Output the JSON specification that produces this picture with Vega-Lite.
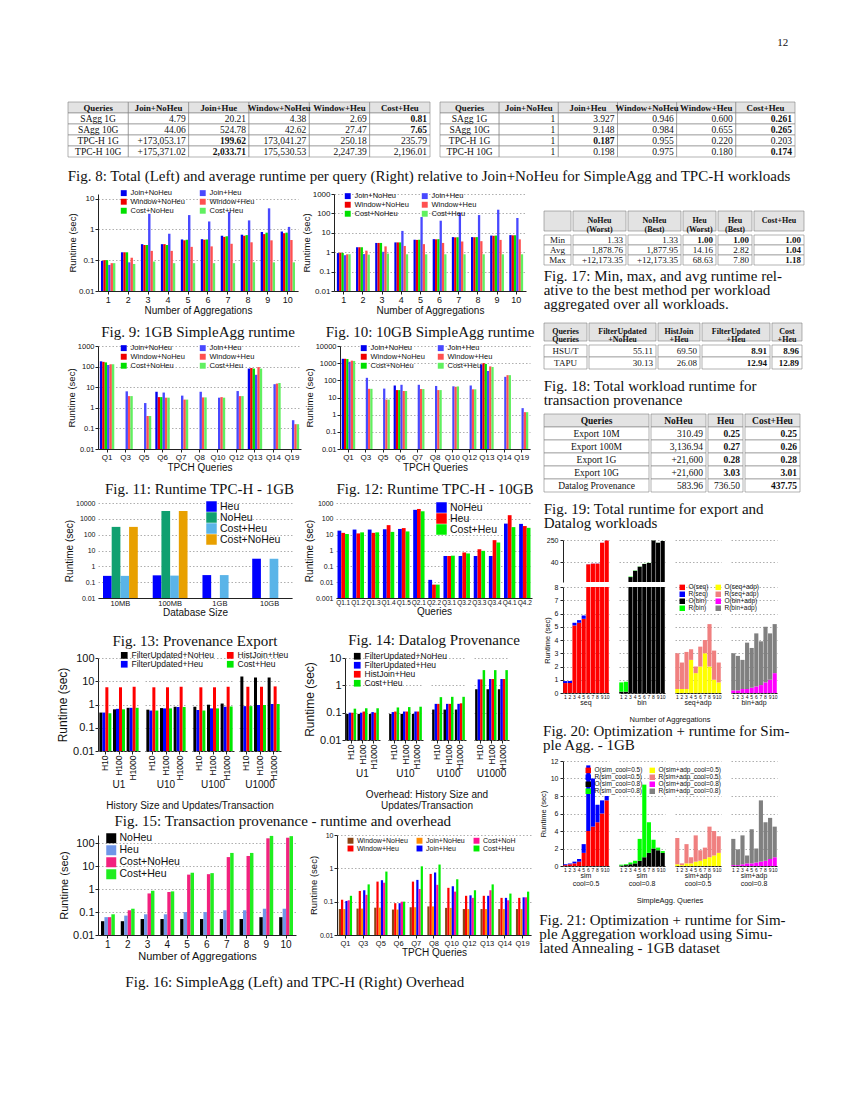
{
"$schema":"https://vega.github.io/schema/vega-lite/v6.json",
"background":"white",
"padding":{"left":56,"top":36,"right":5,"bottom":5},
"config":{
 "font":"Liberation Sans",
 "view":{"stroke":null},
 "axis":{"labelFontSize":8,"titleFontSize":9.5,"titleFontWeight":"normal","labelColor":"#111","titleColor":"#111","domainColor":"#222","tickColor":"#222","gridColor":"#8c8c8c","gridDash":[1.5,2],"gridWidth":0.7,"titlePadding":1,"labelPadding":1,"tickSize":3},
 "legend":{"labelFontSize":7.5,"labelColor":"#111","symbolType":"square","symbolSize":35,"symbolStrokeWidth":0,"rowPadding":0,"columnPadding":10,"padding":0,"labelOffset":3},
 "title":{"font":"Liberation Serif","fontSize":15,"fontWeight":"normal","color":"#111","offset":8},
 "header":{"labelFont":"Liberation Sans","titleFont":"Liberation Sans","titleFontWeight":"normal","labelColor":"#111","titleColor":"#111"}
},
"title":{"text":"12","anchor":"end","font":"Liberation Serif","fontSize":11,"offset":54,"dx":-16},
"datasets":{
"t8a":[
{"r":0,"c0":"Queries","c1":"Join+NoHeu","c2":"Join+Hue","c3":"Window+NoHeu","c4":"Window+Heu","c5":"Cost+Heu"},
{"r":1,"c0":"SAgg 1G","c1":"4.79","c2":"20.21","c3":"4.38","c4":"2.69","c5":"0.81","best":"c5"},
{"r":2,"c0":"SAgg 10G","c1":"44.06","c2":"524.78","c3":"42.62","c4":"27.47","c5":"7.65","best":"c5"},
{"r":3,"c0":"TPC-H 1G","c1":"+173,053.17","c2":"199.62","c3":"173,041.27","c4":"250.18","c5":"235.79","best":"c2"},
{"r":4,"c0":"TPC-H 10G","c1":"+175,371.02","c2":"2,033.71","c3":"175,530.53","c4":"2,247.39","c5":"2,196.01","best":"c2"}
],
"t8b":[
{"r":0,"c0":"Queries","c1":"Join+NoHeu","c2":"Join+Heu","c3":"Window+NoHeu","c4":"Window+Heu","c5":"Cost+Heu"},
{"r":1,"c0":"SAgg 1G","c1":"1","c2":"3.927","c3":"0.946","c4":"0.600","c5":"0.261","best":"c5"},
{"r":2,"c0":"SAgg 10G","c1":"1","c2":"9.148","c3":"0.984","c4":"0.655","c5":"0.265","best":"c5"},
{"r":3,"c0":"TPC-H 1G","c1":"1","c2":"0.187","c3":"0.955","c4":"0.220","c5":"0.203","best":"c2"},
{"r":4,"c0":"TPC-H 10G","c1":"1","c2":"0.198","c3":"0.975","c4":"0.180","c5":"0.174","best":"c5"}
],
"t17":[
{"r":0,"c0":"","c1":"NoHeu\n(Worst)","c2":"NoHeu\n(Best)","c3":"Heu\n(Worst)","c4":"Heu\n(Best)","c5":"Cost+Heu"},
{"r":1,"c0":"Min","c1":"1.33","c2":"1.33","c3":"1.00","c4":"1.00","c5":"1.00","best":"c3 c4 c5"},
{"r":2,"c0":"Avg","c1":"1,878.76","c2":"1,877.95","c3":"14.16","c4":"2.82","c5":"1.04","best":"c5"},
{"r":3,"c0":"Max","c1":"+12,173.35","c2":"+12,173.35","c3":"68.63","c4":"7.80","c5":"1.18","best":"c5"}
],
"t18":[
{"r":0,"c0":"Queries\nQueries","c1":"FilterUpdated\n+NoHeu","c2":"HistJoin\n+Heu","c3":"FilterUpdated\n+Heu","c4":"Cost\n+Heu"},
{"r":1,"c0":"HSU/T","c1":"55.11","c2":"69.50","c3":"8.91","c4":"8.96","best":"c3 c4"},
{"r":2,"c0":"TAPU","c1":"30.13","c2":"26.08","c3":"12.94","c4":"12.89","best":"c3 c4"}
],
"t19":[
{"r":0,"c0":"Queries","c1":"NoHeu","c2":"Heu","c3":"Cost+Heu"},
{"r":1,"c0":"Export 10M","c1":"310.49","c2":"0.25","c3":"0.25","best":"c2 c3"},
{"r":2,"c0":"Export 100M","c1":"3,136.94","c2":"0.27","c3":"0.26","best":"c2 c3"},
{"r":3,"c0":"Export 1G","c1":"+21,600","c2":"0.28","c3":"0.28","best":"c2 c3"},
{"r":4,"c0":"Export 10G","c1":"+21,600","c2":"3.03","c3":"3.01","best":"c2 c3"},
{"r":5,"c0":"Datalog Provenance","c1":"583.96","c2":"736.50","c3":"437.75","best":"c3"}
],
"f9":[
{"n":1,"Join+NoHeu":0.095,"Window+NoHeu":0.1,"Cost+NoHeu":0.1,"Join+Heu":0.07,"Window+Heu":0.08,"Cost+Heu":0.08},
{"n":2,"Join+NoHeu":0.18,"Window+NoHeu":0.18,"Cost+NoHeu":0.18,"Join+Heu":0.085,"Window+Heu":0.12,"Cost+Heu":0.075},
{"n":3,"Join+NoHeu":0.33,"Window+NoHeu":0.31,"Cost+NoHeu":0.31,"Join+Heu":3.2,"Window+Heu":0.2,"Cost+Heu":0.09},
{"n":4,"Join+NoHeu":0.33,"Window+NoHeu":0.33,"Cost+NoHeu":0.31,"Join+Heu":0.72,"Window+Heu":0.2,"Cost+Heu":0.08},
{"n":5,"Join+NoHeu":0.47,"Window+NoHeu":0.44,"Cost+NoHeu":0.46,"Join+Heu":2.9,"Window+Heu":0.27,"Cost+Heu":0.08},
{"n":6,"Join+NoHeu":0.48,"Window+NoHeu":0.46,"Cost+NoHeu":0.47,"Join+Heu":1.8,"Window+Heu":0.28,"Cost+Heu":0.08},
{"n":7,"Join+NoHeu":0.62,"Window+NoHeu":0.57,"Cost+NoHeu":0.6,"Join+Heu":3.7,"Window+Heu":0.34,"Cost+Heu":0.08},
{"n":8,"Join+NoHeu":0.67,"Window+NoHeu":0.62,"Cost+NoHeu":0.65,"Join+Heu":1.95,"Window+Heu":0.38,"Cost+Heu":0.085},
{"n":9,"Join+NoHeu":0.82,"Window+NoHeu":0.7,"Cost+NoHeu":0.78,"Join+Heu":4.8,"Window+Heu":0.44,"Cost+Heu":0.085},
{"n":10,"Join+NoHeu":0.85,"Window+NoHeu":0.75,"Cost+NoHeu":0.78,"Join+Heu":1.2,"Window+Heu":0.45,"Cost+Heu":0.085}
],
"f10":[
{"n":1,"Join+NoHeu":0.9,"Window+NoHeu":0.95,"Cost+NoHeu":0.92,"Join+Heu":0.7,"Window+Heu":0.78,"Cost+Heu":0.78},
{"n":2,"Join+NoHeu":1.8,"Window+NoHeu":1.8,"Cost+NoHeu":1.8,"Join+Heu":0.8,"Window+Heu":1.2,"Cost+Heu":0.75},
{"n":3,"Join+NoHeu":3,"Window+NoHeu":3,"Cost+NoHeu":3,"Join+Heu":1.05,"Window+Heu":2,"Cost+Heu":0.85},
{"n":4,"Join+NoHeu":3.2,"Window+NoHeu":3.2,"Cost+NoHeu":3.2,"Join+Heu":12.5,"Window+Heu":2.1,"Cost+Heu":0.78},
{"n":5,"Join+NoHeu":4.4,"Window+NoHeu":4.3,"Cost+NoHeu":4.4,"Join+Heu":65,"Window+Heu":2.6,"Cost+Heu":0.78},
{"n":6,"Join+NoHeu":4.7,"Window+NoHeu":4.6,"Cost+NoHeu":4.7,"Join+Heu":42,"Window+Heu":3,"Cost+Heu":0.78},
{"n":7,"Join+NoHeu":6,"Window+NoHeu":5.8,"Cost+NoHeu":5.9,"Join+Heu":105,"Window+Heu":3.6,"Cost+Heu":0.78},
{"n":8,"Join+NoHeu":6,"Window+NoHeu":5.9,"Cost+NoHeu":6,"Join+Heu":82,"Window+Heu":3.7,"Cost+Heu":0.78},
{"n":9,"Join+NoHeu":7.2,"Window+NoHeu":7,"Cost+NoHeu":7.2,"Join+Heu":155,"Window+Heu":4.3,"Cost+Heu":0.78},
{"n":10,"Join+NoHeu":7.6,"Window+NoHeu":7.4,"Cost+NoHeu":7.5,"Join+Heu":58,"Window+Heu":4.6,"Cost+Heu":0.78}
],
"f11":[
{"q":"Q1","Join+NoHeu":180,"Window+NoHeu":170,"Cost+NoHeu":160,"Join+Heu":120,"Window+Heu":130,"Cost+Heu":130},
{"q":"Q3","Join+Heu":6.3,"Window+Heu":3.7,"Cost+Heu":3.7},
{"q":"Q5","Join+Heu":1.7,"Window+Heu":0.4,"Cost+Heu":0.4},
{"q":"Q6","Join+NoHeu":6,"Window+NoHeu":3.3,"Cost+NoHeu":3.3,"Join+Heu":5.5,"Window+Heu":3.1,"Cost+Heu":3.1},
{"q":"Q7","Join+Heu":3.9,"Window+Heu":2.5,"Cost+Heu":2.5},
{"q":"Q8","Join+Heu":6,"Window+Heu":3.2,"Cost+Heu":3.2},
{"q":"Q10","Join+Heu":3.1,"Window+Heu":3.3,"Cost+Heu":3.1},
{"q":"Q12","Join+Heu":6.5,"Window+Heu":3.7,"Cost+Heu":3.7},
{"q":"Q13","Join+NoHeu":80,"Window+NoHeu":85,"Cost+NoHeu":80,"Join+Heu":40,"Window+Heu":95,"Cost+Heu":80},
{"q":"Q14","Join+Heu":14,"Window+Heu":15,"Cost+Heu":16},
{"q":"Q19","Join+Heu":0.25,"Window+Heu":0.16,"Cost+Heu":0.16}
],
"f12":[
{"q":"Q1","Join+NoHeu":1800,"Window+NoHeu":1800,"Cost+NoHeu":1750,"Join+Heu":1200,"Window+Heu":1400,"Cost+Heu":1350},
{"q":"Q3","Join+Heu":140,"Window+Heu":32,"Cost+Heu":32},
{"q":"Q5","Join+Heu":33,"Window+Heu":7.5,"Cost+Heu":7.5},
{"q":"Q6","Join+NoHeu":50,"Window+NoHeu":27,"Cost+NoHeu":27,"Join+Heu":55,"Window+Heu":24,"Cost+Heu":24},
{"q":"Q7","Join+Heu":55,"Window+Heu":31,"Cost+Heu":31},
{"q":"Q8","Join+Heu":47,"Window+Heu":27,"Cost+Heu":27},
{"q":"Q10","Join+Heu":45,"Window+Heu":42,"Cost+Heu":44},
{"q":"Q12","Join+Heu":50,"Window+Heu":30,"Cost+Heu":30},
{"q":"Q13","Join+NoHeu":850,"Window+NoHeu":1000,"Cost+NoHeu":900,"Join+Heu":350,"Window+Heu":650,"Cost+Heu":600},
{"q":"Q14","Join+Heu":160,"Window+Heu":200,"Cost+Heu":200},
{"q":"Q19","Join+Heu":2.4,"Window+Heu":1.4,"Cost+Heu":1.4}
],
"f13":[
{"d":"10MB","Heu":0.25,"NoHeu":310,"Cost+Heu":0.25,"Cost+NoHeu":310},
{"d":"100MB","Heu":0.27,"NoHeu":3137,"Cost+Heu":0.26,"Cost+NoHeu":3137},
{"d":"1GB","Heu":0.28,"Cost+Heu":0.28},
{"d":"10GB","Heu":3.03,"Cost+Heu":3.01}
],
"f14":[
{"q":"Q1.1","NoHeu":18,"Heu":13,"Cost+Heu":11},
{"q":"Q1.2","NoHeu":21,"Heu":12,"Cost+Heu":14},
{"q":"Q1.3","NoHeu":21,"Heu":13,"Cost+Heu":14},
{"q":"Q1.4","NoHeu":22,"Heu":40,"Cost+Heu":15},
{"q":"Q1.5","NoHeu":23,"Heu":26,"Cost+Heu":16},
{"q":"Q2.1","NoHeu":370,"Heu":420,"Cost+Heu":300},
{"q":"Q2.2","NoHeu":0.014,"Heu":0.007,"Cost+Heu":0.007},
{"q":"Q3.1","NoHeu":0.45,"Heu":0.45,"Cost+Heu":0.47},
{"q":"Q3.2","NoHeu":0.45,"Heu":0.75,"Cost+Heu":0.65},
{"q":"Q3.3","NoHeu":0.45,"Heu":1.2,"Cost+Heu":0.95},
{"q":"Q3.4","NoHeu":0.45,"Heu":4.5,"Cost+Heu":3.2},
{"q":"Q4.1","NoHeu":50,"Heu":170,"Cost+Heu":30},
{"q":"Q4.2","NoHeu":48,"Heu":35,"Cost+Heu":27}
],
"f15a":[
{"u":"U1","h":"H10","FilterUpdated+NoHeu":0.45,"FilterUpdated+Heu":0.45,"HistJoin+Heu":5.5,"Cost+Heu":0.42},
{"u":"U1","h":"H100","FilterUpdated+NoHeu":0.62,"FilterUpdated+Heu":0.65,"HistJoin+Heu":5.5,"Cost+Heu":0.62},
{"u":"U1","h":"H1000","FilterUpdated+NoHeu":0.72,"FilterUpdated+Heu":0.72,"HistJoin+Heu":5.8,"Cost+Heu":0.72},
{"u":"U10","h":"H10","FilterUpdated+NoHeu":0.6,"FilterUpdated+Heu":0.55,"HistJoin+Heu":5.5,"Cost+Heu":0.55},
{"u":"U10","h":"H100","FilterUpdated+NoHeu":0.7,"FilterUpdated+Heu":0.68,"HistJoin+Heu":5.5,"Cost+Heu":0.68},
{"u":"U10","h":"H1000","FilterUpdated+NoHeu":0.8,"FilterUpdated+Heu":0.78,"HistJoin+Heu":5.8,"Cost+Heu":0.78},
{"u":"U100","h":"H10","FilterUpdated+NoHeu":0.8,"FilterUpdated+Heu":0.58,"HistJoin+Heu":5.5,"Cost+Heu":0.55},
{"u":"U100","h":"H100","FilterUpdated+NoHeu":0.98,"FilterUpdated+Heu":0.68,"HistJoin+Heu":5.5,"Cost+Heu":0.68},
{"u":"U100","h":"H1000","FilterUpdated+NoHeu":1.1,"FilterUpdated+Heu":0.8,"HistJoin+Heu":5.8,"Cost+Heu":0.82},
{"u":"U1000","h":"H10","FilterUpdated+NoHeu":16,"FilterUpdated+Heu":0.85,"HistJoin+Heu":5.8,"Cost+Heu":0.85},
{"u":"U1000","h":"H100","FilterUpdated+NoHeu":14.5,"FilterUpdated+Heu":0.95,"HistJoin+Heu":5.8,"Cost+Heu":0.95},
{"u":"U1000","h":"H1000","FilterUpdated+NoHeu":14.5,"FilterUpdated+Heu":1.05,"HistJoin+Heu":6,"Cost+Heu":1.05}
],
"f15b":[
{"u":"U1","h":"H10","FilterUpdated+NoHeu":0.09,"FilterUpdated+Heu":0.1,"HistJoin+Heu":0.1,"Cost+Heu":0.14},
{"u":"U1","h":"H100","FilterUpdated+NoHeu":0.09,"FilterUpdated+Heu":0.1,"HistJoin+Heu":0.11,"Cost+Heu":0.145},
{"u":"U1","h":"H1000","FilterUpdated+NoHeu":0.09,"FilterUpdated+Heu":0.105,"HistJoin+Heu":0.1,"Cost+Heu":0.145},
{"u":"U10","h":"H10","FilterUpdated+NoHeu":0.09,"FilterUpdated+Heu":0.105,"HistJoin+Heu":0.11,"Cost+Heu":0.155},
{"u":"U10","h":"H100","FilterUpdated+NoHeu":0.09,"FilterUpdated+Heu":0.11,"HistJoin+Heu":0.11,"Cost+Heu":0.16},
{"u":"U10","h":"H1000","FilterUpdated+NoHeu":0.09,"FilterUpdated+Heu":0.11,"HistJoin+Heu":0.11,"Cost+Heu":0.165},
{"u":"U100","h":"H10","FilterUpdated+NoHeu":0.13,"FilterUpdated+Heu":0.21,"HistJoin+Heu":0.21,"Cost+Heu":0.37},
{"u":"U100","h":"H100","FilterUpdated+NoHeu":0.13,"FilterUpdated+Heu":0.21,"HistJoin+Heu":0.21,"Cost+Heu":0.38},
{"u":"U100","h":"H1000","FilterUpdated+NoHeu":0.13,"FilterUpdated+Heu":0.21,"HistJoin+Heu":0.22,"Cost+Heu":0.38},
{"u":"U1000","h":"H10","FilterUpdated+NoHeu":0.72,"FilterUpdated+Heu":1.65,"HistJoin+Heu":1.65,"Cost+Heu":3.6},
{"u":"U1000","h":"H100","FilterUpdated+NoHeu":0.72,"FilterUpdated+Heu":1.7,"HistJoin+Heu":1.7,"Cost+Heu":3.6},
{"u":"U1000","h":"H1000","FilterUpdated+NoHeu":0.72,"FilterUpdated+Heu":1.7,"HistJoin+Heu":1.7,"Cost+Heu":3.6}
],
"f16a":[
{"n":1,"NoHeu":0.04,"Heu":0.06,"Cost+NoHeu":0.06,"Cost+Heu":0.08},
{"n":2,"NoHeu":0.04,"Heu":0.07,"Cost+NoHeu":0.12,"Cost+Heu":0.14},
{"n":3,"NoHeu":0.05,"Heu":0.08,"Cost+NoHeu":0.65,"Cost+Heu":0.85},
{"n":4,"NoHeu":0.05,"Heu":0.08,"Cost+NoHeu":0.75,"Cost+Heu":0.8},
{"n":5,"NoHeu":0.05,"Heu":0.1,"Cost+NoHeu":4.3,"Cost+Heu":5.2},
{"n":6,"NoHeu":0.05,"Heu":0.1,"Cost+NoHeu":4.5,"Cost+Heu":5},
{"n":7,"NoHeu":0.05,"Heu":0.12,"Cost+NoHeu":25,"Cost+Heu":38},
{"n":8,"NoHeu":0.05,"Heu":0.12,"Cost+NoHeu":28,"Cost+Heu":38},
{"n":9,"NoHeu":0.06,"Heu":0.14,"Cost+NoHeu":165,"Cost+Heu":210},
{"n":10,"NoHeu":0.06,"Heu":0.14,"Cost+NoHeu":175,"Cost+Heu":205}
],
"f16b":[
{"q":"Q1","Window+NoHeu":0.06,"Window+Heu":0.115,"Join+NoHeu":0.06,"Join+Heu":0.105,"Cost+NoH":0.11,"Cost+Heu":0.15},
{"q":"Q3","Window+NoHeu":0.062,"Window+Heu":0.21,"Join+NoHeu":0.062,"Join+Heu":0.22,"Cost+NoH":0.16,"Cost+Heu":0.33},
{"q":"Q5","Window+NoHeu":0.066,"Window+Heu":0.4,"Join+NoHeu":0.066,"Join+Heu":0.44,"Cost+NoH":0.37,"Cost+Heu":0.8},
{"q":"Q6","Window+NoHeu":0.058,"Window+Heu":0.09,"Join+NoHeu":0.058,"Join+Heu":0.09,"Cost+NoH":0.1,"Cost+Heu":0.1},
{"q":"Q7","Window+NoHeu":0.068,"Window+Heu":0.4,"Join+NoHeu":0.068,"Join+Heu":0.45,"Cost+NoH":0.24,"Cost+Heu":1.15},
{"q":"Q8","Window+NoHeu":0.072,"Window+Heu":0.68,"Join+NoHeu":0.072,"Join+Heu":0.75,"Cost+NoH":0.32,"Cost+Heu":1.3},
{"q":"Q10","Window+NoHeu":0.065,"Window+Heu":0.26,"Join+NoHeu":0.065,"Join+Heu":0.29,"Cost+NoH":0.2,"Cost+Heu":0.47},
{"q":"Q12","Window+NoHeu":0.06,"Window+Heu":0.15,"Join+NoHeu":0.06,"Join+Heu":0.155,"Cost+NoH":0.13,"Cost+Heu":0.22},
{"q":"Q13","Window+NoHeu":0.06,"Window+Heu":0.15,"Join+NoHeu":0.06,"Join+Heu":0.15,"Cost+NoH":0.22,"Cost+Heu":0.33},
{"q":"Q14","Window+NoHeu":0.06,"Window+Heu":0.13,"Join+NoHeu":0.06,"Join+Heu":0.13,"Cost+NoH":0.11,"Cost+Heu":0.175},
{"q":"Q19","Window+NoHeu":0.06,"Window+Heu":0.13,"Join+NoHeu":0.06,"Join+Heu":0.135,"Cost+NoH":0.135,"Cost+Heu":0.2}
],
"f20":[
{"g":"seq","n":1,"s":"O(seq)","v":0.75},{"g":"seq","n":2,"s":"O(seq)","v":0.75},{"g":"seq","n":3,"s":"O(seq)","v":5.1},{"g":"seq","n":4,"s":"O(seq)","v":5.3},{"g":"seq","n":5,"s":"O(seq)","v":5.6},{"g":"seq","n":6,"s":"O(seq)","v":34},{"g":"seq","n":7,"s":"O(seq)","v":36},{"g":"seq","n":8,"s":"O(seq)","v":36},{"g":"seq","n":9,"s":"O(seq)","v":200},{"g":"seq","n":10,"s":"O(seq)","v":240},
{"g":"seq","n":1,"s":"R(seq)","v":0.15},{"g":"seq","n":2,"s":"R(seq)","v":0.15},{"g":"seq","n":3,"s":"R(seq)","v":0.2},{"g":"seq","n":4,"s":"R(seq)","v":0.2},{"g":"seq","n":5,"s":"R(seq)","v":0.25},{"g":"seq","n":6,"s":"R(seq)","v":0.3},{"g":"seq","n":7,"s":"R(seq)","v":0.3},{"g":"seq","n":8,"s":"R(seq)","v":0.5},{"g":"seq","n":9,"s":"R(seq)","v":1},{"g":"seq","n":10,"s":"R(seq)","v":1},
{"g":"bin","n":1,"s":"O(bin)","v":0.1},{"g":"bin","n":2,"s":"O(bin)","v":0.1},{"g":"bin","n":3,"s":"O(bin)","v":12},{"g":"bin","n":4,"s":"O(bin)","v":20},{"g":"bin","n":5,"s":"O(bin)","v":28},{"g":"bin","n":6,"s":"O(bin)","v":35},{"g":"bin","n":7,"s":"O(bin)","v":38},{"g":"bin","n":8,"s":"O(bin)","v":240},{"g":"bin","n":9,"s":"O(bin)","v":200},{"g":"bin","n":10,"s":"O(bin)","v":230},
{"g":"bin","n":1,"s":"R(bin)","v":0.7},{"g":"bin","n":2,"s":"R(bin)","v":0.75},{"g":"bin","n":3,"s":"R(bin)","v":0.5},{"g":"bin","n":4,"s":"R(bin)","v":0.5},{"g":"bin","n":5,"s":"R(bin)","v":0.5},{"g":"bin","n":6,"s":"R(bin)","v":0.5},{"g":"bin","n":7,"s":"R(bin)","v":0.5},{"g":"bin","n":8,"s":"R(bin)","v":1},{"g":"bin","n":9,"s":"R(bin)","v":1},{"g":"bin","n":10,"s":"R(bin)","v":1},
{"g":"seq+adp","n":1,"s":"O(seq+adp)","v":0.3},{"g":"seq+adp","n":2,"s":"O(seq+adp)","v":0.3},{"g":"seq+adp","n":3,"s":"O(seq+adp)","v":0.3},{"g":"seq+adp","n":4,"s":"O(seq+adp)","v":2.5},{"g":"seq+adp","n":5,"s":"O(seq+adp)","v":1.5},{"g":"seq+adp","n":6,"s":"O(seq+adp)","v":2},{"g":"seq+adp","n":7,"s":"O(seq+adp)","v":3},{"g":"seq+adp","n":8,"s":"O(seq+adp)","v":2},{"g":"seq+adp","n":9,"s":"O(seq+adp)","v":1},{"g":"seq+adp","n":10,"s":"O(seq+adp)","v":0.8},
{"g":"seq+adp","n":1,"s":"R(seq+adp)","v":2.7},{"g":"seq+adp","n":2,"s":"R(seq+adp)","v":2},{"g":"seq+adp","n":3,"s":"R(seq+adp)","v":2.8},{"g":"seq+adp","n":4,"s":"R(seq+adp)","v":0.8},{"g":"seq+adp","n":5,"s":"R(seq+adp)","v":0.5},{"g":"seq+adp","n":6,"s":"R(seq+adp)","v":1.5},{"g":"seq+adp","n":7,"s":"R(seq+adp)","v":1},{"g":"seq+adp","n":8,"s":"R(seq+adp)","v":3.2},{"g":"seq+adp","n":9,"s":"R(seq+adp)","v":2.2},{"g":"seq+adp","n":10,"s":"R(seq+adp)","v":1.5},
{"g":"bin+adp","n":1,"s":"O(bin+adp)","v":0.2},{"g":"bin+adp","n":2,"s":"O(bin+adp)","v":0.2},{"g":"bin+adp","n":3,"s":"O(bin+adp)","v":0.3},{"g":"bin+adp","n":4,"s":"O(bin+adp)","v":0.3},{"g":"bin+adp","n":5,"s":"O(bin+adp)","v":0.4},{"g":"bin+adp","n":6,"s":"O(bin+adp)","v":0.5},{"g":"bin+adp","n":7,"s":"O(bin+adp)","v":0.6},{"g":"bin+adp","n":8,"s":"O(bin+adp)","v":0.8},{"g":"bin+adp","n":9,"s":"O(bin+adp)","v":1},{"g":"bin+adp","n":10,"s":"O(bin+adp)","v":1.5},
{"g":"bin+adp","n":1,"s":"R(bin+adp)","v":2.8},{"g":"bin+adp","n":2,"s":"R(bin+adp)","v":2.6},{"g":"bin+adp","n":3,"s":"R(bin+adp)","v":2.2},{"g":"bin+adp","n":4,"s":"R(bin+adp)","v":3.5},{"g":"bin+adp","n":5,"s":"R(bin+adp)","v":3},{"g":"bin+adp","n":6,"s":"R(bin+adp)","v":4},{"g":"bin+adp","n":7,"s":"R(bin+adp)","v":3.3},{"g":"bin+adp","n":8,"s":"R(bin+adp)","v":4.2},{"g":"bin+adp","n":9,"s":"R(bin+adp)","v":3.5},{"g":"bin+adp","n":10,"s":"R(bin+adp)","v":3.7}
],
"f21":[
{"g":"sim|cool=0.5","n":1,"s":"O(sim_cool=0.5)","v":0.1},{"g":"sim|cool=0.5","n":2,"s":"O(sim_cool=0.5)","v":0.2},{"g":"sim|cool=0.5","n":3,"s":"O(sim_cool=0.5)","v":0.3},{"g":"sim|cool=0.5","n":4,"s":"O(sim_cool=0.5)","v":0.5},{"g":"sim|cool=0.5","n":5,"s":"O(sim_cool=0.5)","v":1.5},{"g":"sim|cool=0.5","n":6,"s":"O(sim_cool=0.5)","v":4},{"g":"sim|cool=0.5","n":7,"s":"O(sim_cool=0.5)","v":4.5},{"g":"sim|cool=0.5","n":8,"s":"O(sim_cool=0.5)","v":5},{"g":"sim|cool=0.5","n":9,"s":"O(sim_cool=0.5)","v":6},{"g":"sim|cool=0.5","n":10,"s":"O(sim_cool=0.5)","v":7.5},
{"g":"sim|cool=0.5","n":1,"s":"R(sim_cool=0.5)","v":0.1},{"g":"sim|cool=0.5","n":2,"s":"R(sim_cool=0.5)","v":0.1},{"g":"sim|cool=0.5","n":3,"s":"R(sim_cool=0.5)","v":0.2},{"g":"sim|cool=0.5","n":4,"s":"R(sim_cool=0.5)","v":0.3},{"g":"sim|cool=0.5","n":5,"s":"R(sim_cool=0.5)","v":1},{"g":"sim|cool=0.5","n":6,"s":"R(sim_cool=0.5)","v":7.5},{"g":"sim|cool=0.5","n":7,"s":"R(sim_cool=0.5)","v":5.5},{"g":"sim|cool=0.5","n":8,"s":"R(sim_cool=0.5)","v":2},{"g":"sim|cool=0.5","n":9,"s":"R(sim_cool=0.5)","v":1.5},{"g":"sim|cool=0.5","n":10,"s":"R(sim_cool=0.5)","v":0.5},
{"g":"sim|cool=0.8","n":1,"s":"O(sim_cool=0.8)","v":0.05},{"g":"sim|cool=0.8","n":2,"s":"O(sim_cool=0.8)","v":0.1},{"g":"sim|cool=0.8","n":3,"s":"O(sim_cool=0.8)","v":0.2},{"g":"sim|cool=0.8","n":4,"s":"O(sim_cool=0.8)","v":0.3},{"g":"sim|cool=0.8","n":5,"s":"O(sim_cool=0.8)","v":0.6},{"g":"sim|cool=0.8","n":6,"s":"O(sim_cool=0.8)","v":1},{"g":"sim|cool=0.8","n":7,"s":"O(sim_cool=0.8)","v":1.5},{"g":"sim|cool=0.8","n":8,"s":"O(sim_cool=0.8)","v":2},{"g":"sim|cool=0.8","n":9,"s":"O(sim_cool=0.8)","v":1.8},{"g":"sim|cool=0.8","n":10,"s":"O(sim_cool=0.8)","v":1.5},
{"g":"sim|cool=0.8","n":1,"s":"R(sim_cool=0.8)","v":0.1},{"g":"sim|cool=0.8","n":2,"s":"R(sim_cool=0.8)","v":0.1},{"g":"sim|cool=0.8","n":3,"s":"R(sim_cool=0.8)","v":0.2},{"g":"sim|cool=0.8","n":4,"s":"R(sim_cool=0.8)","v":0.3},{"g":"sim|cool=0.8","n":5,"s":"R(sim_cool=0.8)","v":2.5},{"g":"sim|cool=0.8","n":6,"s":"R(sim_cool=0.8)","v":8.3},{"g":"sim|cool=0.8","n":7,"s":"R(sim_cool=0.8)","v":3.5},{"g":"sim|cool=0.8","n":8,"s":"R(sim_cool=0.8)","v":1},{"g":"sim|cool=0.8","n":9,"s":"R(sim_cool=0.8)","v":0.3},{"g":"sim|cool=0.8","n":10,"s":"R(sim_cool=0.8)","v":0.2},
{"g":"sim+adp|cool=0.5","n":1,"s":"O(sim+adp_cool=0.5)","v":0.2},{"g":"sim+adp|cool=0.5","n":2,"s":"O(sim+adp_cool=0.5)","v":0.1},{"g":"sim+adp|cool=0.5","n":3,"s":"O(sim+adp_cool=0.5)","v":0.3},{"g":"sim+adp|cool=0.5","n":4,"s":"O(sim+adp_cool=0.5)","v":0.3},{"g":"sim+adp|cool=0.5","n":5,"s":"O(sim+adp_cool=0.5)","v":0.5},{"g":"sim+adp|cool=0.5","n":6,"s":"O(sim+adp_cool=0.5)","v":0.6},{"g":"sim+adp|cool=0.5","n":7,"s":"O(sim+adp_cool=0.5)","v":0.8},{"g":"sim+adp|cool=0.5","n":8,"s":"O(sim+adp_cool=0.5)","v":1},{"g":"sim+adp|cool=0.5","n":9,"s":"O(sim+adp_cool=0.5)","v":1.2},{"g":"sim+adp|cool=0.5","n":10,"s":"O(sim+adp_cool=0.5)","v":1.5},
{"g":"sim+adp|cool=0.5","n":1,"s":"R(sim+adp_cool=0.5)","v":3},{"g":"sim+adp|cool=0.5","n":2,"s":"R(sim+adp_cool=0.5)","v":0.2},{"g":"sim+adp|cool=0.5","n":3,"s":"R(sim+adp_cool=0.5)","v":2.2},{"g":"sim+adp|cool=0.5","n":4,"s":"R(sim+adp_cool=0.5)","v":0.7},{"g":"sim+adp|cool=0.5","n":5,"s":"R(sim+adp_cool=0.5)","v":3},{"g":"sim+adp|cool=0.5","n":6,"s":"R(sim+adp_cool=0.5)","v":1.2},{"g":"sim+adp|cool=0.5","n":7,"s":"R(sim+adp_cool=0.5)","v":1.3},{"g":"sim+adp|cool=0.5","n":8,"s":"R(sim+adp_cool=0.5)","v":3.5},{"g":"sim+adp|cool=0.5","n":9,"s":"R(sim+adp_cool=0.5)","v":2.8},{"g":"sim+adp|cool=0.5","n":10,"s":"R(sim+adp_cool=0.5)","v":1.9},
{"g":"sim+adp|cool=0.8","n":1,"s":"O(sim+adp_cool=0.8)","v":0.1},{"g":"sim+adp|cool=0.8","n":2,"s":"O(sim+adp_cool=0.8)","v":0.1},{"g":"sim+adp|cool=0.8","n":3,"s":"O(sim+adp_cool=0.8)","v":0.2},{"g":"sim+adp|cool=0.8","n":4,"s":"O(sim+adp_cool=0.8)","v":0.3},{"g":"sim+adp|cool=0.8","n":5,"s":"O(sim+adp_cool=0.8)","v":0.3},{"g":"sim+adp|cool=0.8","n":6,"s":"O(sim+adp_cool=0.8)","v":0.4},{"g":"sim+adp|cool=0.8","n":7,"s":"O(sim+adp_cool=0.8)","v":0.5},{"g":"sim+adp|cool=0.8","n":8,"s":"O(sim+adp_cool=0.8)","v":0.6},{"g":"sim+adp|cool=0.8","n":9,"s":"O(sim+adp_cool=0.8)","v":0.8},{"g":"sim+adp|cool=0.8","n":10,"s":"O(sim+adp_cool=0.8)","v":1},
{"g":"sim+adp|cool=0.8","n":1,"s":"R(sim+adp_cool=0.8)","v":3},{"g":"sim+adp|cool=0.8","n":2,"s":"R(sim+adp_cool=0.8)","v":1.8},{"g":"sim+adp|cool=0.8","n":3,"s":"R(sim+adp_cool=0.8)","v":3.3},{"g":"sim+adp|cool=0.8","n":4,"s":"R(sim+adp_cool=0.8)","v":0.9},{"g":"sim+adp|cool=0.8","n":5,"s":"R(sim+adp_cool=0.8)","v":3.9},{"g":"sim+adp|cool=0.8","n":6,"s":"R(sim+adp_cool=0.8)","v":1.6},{"g":"sim+adp|cool=0.8","n":7,"s":"R(sim+adp_cool=0.8)","v":7},{"g":"sim+adp|cool=0.8","n":8,"s":"R(sim+adp_cool=0.8)","v":4.4},{"g":"sim+adp|cool=0.8","n":9,"s":"R(sim+adp_cool=0.8)","v":4.7},{"g":"sim+adp|cool=0.8","n":10,"s":"R(sim+adp_cool=0.8)","v":3.5}
]
},
"resolve":{"scale":{"color":"independent","xOffset":"independent"},"legend":{"color":"independent"}},
"spacing":4,
"vconcat":[
{
 "spacing":8,
 "title":{"text":"Fig. 8: Total (Left) and average runtime per query (Right) relative to Join+NoHeu for SimpleAgg and TPC-H workloads","orient":"bottom","anchor":"start","offset":12},
 "hconcat":[
  {
   "data":{"name":"t8a"},
   "transform":[{"fold":["c0","c1","c2","c3","c4","c5"],"as":["c","t"]}],
   "width":332,"height":55,
   "encoding":{"x":{"field":"c","type":"nominal","axis":null,"scale":{"paddingInner":0,"paddingOuter":0,"range":[-30,332]}},"y":{"field":"r","type":"ordinal","axis":null,"scale":{"paddingInner":0,"paddingOuter":0}}},
   "layer":[
    {"mark":{"type":"rect","stroke":"#808080","strokeWidth":0.6},"encoding":{"fill":{"condition":{"test":"datum.r==0","value":"#e3e3e3"},"value":"#ffffff"}}},
    {"transform":[{"filter":"datum.r==0"}],"mark":{"type":"text","font":"Liberation Serif","fontSize":8.8,"fontWeight":"bold","color":"#111"},"encoding":{"text":{"field":"t"}}},
    {"transform":[{"filter":"datum.r>0 && datum.c=='c0'"}],"mark":{"type":"text","font":"Liberation Serif","fontSize":9.5,"color":"#111"},"encoding":{"text":{"field":"t"}}},
    {"transform":[{"filter":"datum.r>0 && datum.c!='c0' && indexof(datum.best||'',datum.c)<0"}],"mark":{"type":"text","font":"Liberation Serif","fontSize":9.5,"color":"#111","align":"right","dx":-3},"encoding":{"x":{"field":"c","type":"nominal","bandPosition":1,"axis":null},"text":{"field":"t"}}},
    {"transform":[{"filter":"datum.r>0 && datum.c!='c0' && indexof(datum.best||'',datum.c)>=0"}],"mark":{"type":"text","font":"Liberation Serif","fontSize":9.5,"fontWeight":"bold","color":"#111","align":"right","dx":-3},"encoding":{"x":{"field":"c","type":"nominal","bandPosition":1,"axis":null},"text":{"field":"t"}}}
   ]
  },
  {
   "data":{"name":"t8b"},
   "transform":[{"fold":["c0","c1","c2","c3","c4","c5"],"as":["c","t"]}],
   "width":355,"height":55,
   "encoding":{"x":{"field":"c","type":"nominal","axis":null,"scale":{"paddingInner":0,"paddingOuter":0}},"y":{"field":"r","type":"ordinal","axis":null,"scale":{"paddingInner":0,"paddingOuter":0}}},
   "layer":[
    {"mark":{"type":"rect","stroke":"#808080","strokeWidth":0.6},"encoding":{"fill":{"condition":{"test":"datum.r==0","value":"#e3e3e3"},"value":"#ffffff"}}},
    {"transform":[{"filter":"datum.r==0"}],"mark":{"type":"text","font":"Liberation Serif","fontSize":8.8,"fontWeight":"bold","color":"#111"},"encoding":{"text":{"field":"t"}}},
    {"transform":[{"filter":"datum.r>0 && datum.c=='c0'"}],"mark":{"type":"text","font":"Liberation Serif","fontSize":9.5,"color":"#111"},"encoding":{"text":{"field":"t"}}},
    {"transform":[{"filter":"datum.r>0 && datum.c!='c0' && indexof(datum.best||'',datum.c)<0"}],"mark":{"type":"text","font":"Liberation Serif","fontSize":9.5,"color":"#111","align":"right","dx":-3},"encoding":{"x":{"field":"c","type":"nominal","bandPosition":1,"axis":null},"text":{"field":"t"}}},
    {"transform":[{"filter":"datum.r>0 && datum.c!='c0' && indexof(datum.best||'',datum.c)>=0"}],"mark":{"type":"text","font":"Liberation Serif","fontSize":9.5,"fontWeight":"bold","color":"#111","align":"right","dx":-3},"encoding":{"x":{"field":"c","type":"nominal","bandPosition":1,"axis":null},"text":{"field":"t"}}}
   ]
  }
 ]
},
{
 "spacing":4,
 "resolve":{"scale":{"color":"independent","xOffset":"independent"},"legend":{"color":"independent"}},
 "hconcat":[
  {
   "spacing":2,
   "resolve":{"scale":{"color":"independent","xOffset":"independent"},"legend":{"color":"independent"}},
   "vconcat":[
    {
     "spacing":3,
     "resolve":{"scale":{"color":"independent","xOffset":"independent"},"legend":{"color":"independent"}},
     "hconcat":[
      {
       "width":200,"height":97,
       "title":{"text":"Fig. 9: 1GB SimpleAgg runtime","orient":"bottom","frame":"group","offset":10},
       "data":{"name":"f9"},
       "transform":[{"fold":["Join+NoHeu","Window+NoHeu","Cost+NoHeu","Join+Heu","Window+Heu","Cost+Heu"],"as":["s","v"]}],
       "mark":{"type":"bar"},
       "encoding":{
        "x":{"field":"n","type":"ordinal","title":"Number of Aggregations","scale":{"paddingInner":0.28,"paddingOuter":0.15},"axis":{"labelAngle":0,"labelFontSize":9,"titleFontSize":10}},
        "xOffset":{"field":"s","type":"nominal","sort":["Join+NoHeu","Window+NoHeu","Cost+NoHeu","Join+Heu","Window+Heu","Cost+Heu"]},
        "y":{"field":"v","type":"quantitative","stack":null,"scale":{"type":"log","domain":[0.01,14],"clamp":true},"axis":{"values":[0.01,0.1,1,10],"format":"~g","grid":true,"title":"Runtime (sec)"}},
        "color":{"field":"s","type":"nominal","scale":{"domain":["Join+NoHeu","Window+NoHeu","Cost+NoHeu","Join+Heu","Window+Heu","Cost+Heu"],"range":["#0000f0","#f00000","#00e000","#4848ff","#ff5050","#60f060"]},"legend":{"orient":"none","legendX":22,"legendY":-5,"columns":2,"columnPadding":14,"title":null}}
       }
      },
      {
       "width":192,"height":97,
       "title":{"text":"Fig. 10: 10GB SimpleAgg runtime","orient":"bottom","frame":"group","offset":10},
       "data":{"name":"f10"},
       "transform":[{"fold":["Join+NoHeu","Window+NoHeu","Cost+NoHeu","Join+Heu","Window+Heu","Cost+Heu"],"as":["s","v"]}],
       "mark":{"type":"bar"},
       "encoding":{
        "x":{"field":"n","type":"ordinal","title":"Number of Aggregations","scale":{"paddingInner":0.28,"paddingOuter":0.15},"axis":{"labelAngle":0,"labelFontSize":9,"titleFontSize":10}},
        "xOffset":{"field":"s","type":"nominal","sort":["Join+NoHeu","Window+NoHeu","Cost+NoHeu","Join+Heu","Window+Heu","Cost+Heu"]},
        "y":{"field":"v","type":"quantitative","stack":null,"scale":{"type":"log","domain":[0.01,1000],"clamp":true},"axis":{"values":[0.01,0.1,1,10,100,1000],"format":"~g","grid":true,"title":"Runtime (sec)"}},
        "color":{"field":"s","type":"nominal","scale":{"domain":["Join+NoHeu","Window+NoHeu","Cost+NoHeu","Join+Heu","Window+Heu","Cost+Heu"],"range":["#0000f0","#f00000","#00e000","#4848ff","#ff5050","#60f060"]},"legend":{"orient":"none","legendX":10,"legendY":-2,"columns":2,"columnPadding":12,"title":null}}
       }
      }
     ]
    },
    {
     "spacing":3,
     "resolve":{"scale":{"color":"independent","xOffset":"independent"},"legend":{"color":"independent"}},
     "hconcat":[
      {
       "width":203,"height":103,
       "title":{"text":"Fig. 11: Runtime TPC-H - 1GB","orient":"bottom","frame":"group","offset":10},
       "data":{"name":"f11"},
       "transform":[{"fold":["Join+NoHeu","Window+NoHeu","Cost+NoHeu","Join+Heu","Window+Heu","Cost+Heu"],"as":["s","v"]}],
       "mark":{"type":"bar"},
       "encoding":{
        "x":{"field":"q","type":"ordinal","sort":null,"title":"TPCH Queries","scale":{"paddingInner":0.22,"paddingOuter":0.1},"axis":{"labelAngle":0,"labelFontSize":8,"titleFontSize":10}},
        "xOffset":{"field":"s","type":"nominal","sort":["Join+NoHeu","Window+NoHeu","Cost+NoHeu","Join+Heu","Window+Heu","Cost+Heu"]},
        "y":{"field":"v","type":"quantitative","stack":null,"scale":{"type":"log","domain":[0.01,1000],"clamp":true},"axis":{"values":[0.01,0.1,1,10,100,1000],"format":"~g","grid":true,"title":"Runtime (sec)","labelFontSize":7.5}},
        "color":{"field":"s","type":"nominal","scale":{"domain":["Join+NoHeu","Window+NoHeu","Cost+NoHeu","Join+Heu","Window+Heu","Cost+Heu"],"range":["#0000f0","#f00000","#00e000","#4848ff","#ff5050","#60f060"]},"legend":{"orient":"none","legendX":22,"legendY":-2,"columns":2,"columnPadding":14,"title":null}}
       }
      },
      {
       "width":190,"height":103,
       "title":{"text":"Fig. 12: Runtime TPC-H - 10GB","orient":"bottom","frame":"group","offset":10},
       "data":{"name":"f12"},
       "transform":[{"fold":["Join+NoHeu","Window+NoHeu","Cost+NoHeu","Join+Heu","Window+Heu","Cost+Heu"],"as":["s","v"]}],
       "mark":{"type":"bar"},
       "encoding":{
        "x":{"field":"q","type":"ordinal","sort":null,"title":"TPCH Queries","scale":{"paddingInner":0.22,"paddingOuter":0.1},"axis":{"labelAngle":0,"labelFontSize":8,"titleFontSize":10}},
        "xOffset":{"field":"s","type":"nominal","sort":["Join+NoHeu","Window+NoHeu","Cost+NoHeu","Join+Heu","Window+Heu","Cost+Heu"]},
        "y":{"field":"v","type":"quantitative","stack":null,"scale":{"type":"log","domain":[0.01,10000],"clamp":true},"axis":{"values":[0.01,0.1,1,10,100,1000,10000],"format":"~g","grid":true,"title":"Runtime (sec)","labelFontSize":7.5}},
        "color":{"field":"s","type":"nominal","scale":{"domain":["Join+NoHeu","Window+NoHeu","Cost+NoHeu","Join+Heu","Window+Heu","Cost+Heu"],"range":["#0000f0","#f00000","#00e000","#4848ff","#ff5050","#60f060"]},"legend":{"orient":"none","legendX":20,"legendY":-2,"columns":2,"columnPadding":12,"title":null}}
       }
      }
     ]
    },
    {
     "spacing":12,
     "resolve":{"scale":{"color":"independent","xOffset":"independent"},"legend":{"color":"independent"}},
     "hconcat":[
      {
       "width":194,"height":95,
       "title":{"text":"Fig. 13: Provenance Export","orient":"bottom","frame":"group","offset":16},
       "data":{"name":"f13"},
       "transform":[{"fold":["Heu","NoHeu","Cost+Heu","Cost+NoHeu"],"as":["s","v"]}],
       "mark":{"type":"bar"},
       "encoding":{
        "x":{"field":"d","type":"ordinal","sort":null,"title":"Database Size","scale":{"paddingInner":0.3,"paddingOuter":0.1},"axis":{"labelAngle":0,"labelFontSize":7.5,"titleFontSize":10,"ticks":false}},
        "xOffset":{"field":"s","type":"nominal","sort":["Heu","NoHeu","Cost+Heu","Cost+NoHeu"]},
        "y":{"field":"v","type":"quantitative","stack":null,"scale":{"type":"log","domain":[0.01,10000],"clamp":true},"axis":{"values":[0.01,0.1,1,10,100,1000,10000],"format":"~g","grid":true,"title":"Runtime (sec)","labelFontSize":7,"titleFontSize":10,"domain":false,"ticks":false,"labelPadding":3}},
        "color":{"field":"s","type":"nominal","scale":{"domain":["Heu","NoHeu","Cost+Heu","Cost+NoHeu"],"range":["#0000ff","#10a070","#5ab4e8","#e8a000"]},"legend":{"orient":"none","legendX":108,"legendY":-2,"title":null,"labelFontSize":10.5,"symbolSize":110,"rowPadding":0}}
       }
      },
      {
       "width":196,"height":95,
       "title":{"text":"Fig. 14: Datalog Provenance","orient":"bottom","frame":"group","offset":16},
       "data":{"name":"f14"},
       "transform":[{"fold":["NoHeu","Heu","Cost+Heu"],"as":["s","v"]}],
       "mark":{"type":"bar"},
       "encoding":{
        "x":{"field":"q","type":"ordinal","sort":null,"title":"Queries","scale":{"paddingInner":0.25,"paddingOuter":0.1},"axis":{"labelAngle":0,"labelFontSize":6.5,"titleFontSize":10,"labelOverlap":false,"ticks":false}},
        "xOffset":{"field":"s","type":"nominal","sort":["NoHeu","Heu","Cost+Heu"]},
        "y":{"field":"v","type":"quantitative","stack":null,"scale":{"type":"log","domain":[0.001,1000],"clamp":true},"axis":{"values":[0.001,0.01,0.1,1,10,100,1000],"format":"~g","grid":true,"title":"Runtime (sec)","labelFontSize":7,"titleFontSize":10,"domain":false,"ticks":false,"labelPadding":3}},
        "color":{"field":"s","type":"nominal","scale":{"domain":["NoHeu","Heu","Cost+Heu"],"range":["#0000ff","#ff0000","#00f000"]},"legend":{"orient":"none","legendX":100,"legendY":-1,"title":null,"labelFontSize":10.5,"symbolSize":110,"rowPadding":0}}
       }
      }
     ]
    },
    {
     "spacing":14,
     "resolve":{"scale":{"color":"independent","xOffset":"independent"},"legend":{"color":"independent"}},
     "title":{"text":"Fig. 15: Transaction provenance - runtime and overhead","orient":"bottom","anchor":"middle","offset":3},
     "hconcat":[
      {
       "data":{"name":"f15a"},
       "transform":[{"fold":["FilterUpdated+NoHeu","FilterUpdated+Heu","HistJoin+Heu","Cost+Heu"],"as":["s","v"]}],
       "facet":{"column":{"field":"u","type":"ordinal","sort":["U1","U10","U100","U1000"],"title":"History Size and Updates/Transaction","header":{"labelOrient":"bottom","titleOrient":"bottom","labelFontSize":10,"titleFontSize":10,"labelPadding":0,"titlePadding":0}}},
       "spacing":5,
       "spec":{
        "width":42,"height":93,
        "mark":{"type":"bar"},
        "encoding":{
         "x":{"field":"h","type":"ordinal","sort":["H10","H100","H1000"],"title":null,"scale":{"paddingInner":0.12,"paddingOuter":0.1},"axis":{"labelAngle":-90,"labelFontSize":8.5}},
         "xOffset":{"field":"s","type":"nominal","sort":["FilterUpdated+NoHeu","FilterUpdated+Heu","HistJoin+Heu","Cost+Heu"]},
         "y":{"field":"v","type":"quantitative","stack":null,"scale":{"type":"log","domain":[0.01,100],"clamp":true},"axis":{"values":[0.01,0.1,1,10,100],"format":"~g","grid":true,"title":"Runtime (sec)","labelFontSize":11,"titleFontSize":12,"titlePadding":3}},
         "color":{"field":"s","type":"nominal","scale":{"domain":["FilterUpdated+NoHeu","FilterUpdated+Heu","HistJoin+Heu","Cost+Heu"],"range":["#000000","#0000ff","#ff0000","#00e800"]},"legend":{"orient":"none","legendX":22,"legendY":-7,"columns":2,"columnPadding":12,"title":null,"labelFontSize":8.5,"symbolSize":45}}
        }
       }
      },
      {
       "data":{"name":"f15b"},
       "transform":[{"fold":["FilterUpdated+NoHeu","FilterUpdated+Heu","HistJoin+Heu","Cost+Heu"],"as":["s","v"]}],
       "facet":{"column":{"field":"u","type":"ordinal","sort":["U1","U10","U100","U1000"],"title":["Overhead: History Size and","Updates/Transaction"],"header":{"labelOrient":"bottom","titleOrient":"bottom","labelFontSize":10,"titleFontSize":10,"labelPadding":0,"titlePadding":0,"titleLineHeight":11}}},
       "spacing":8,
       "spec":{
        "width":35,"height":82,
        "mark":{"type":"bar"},
        "encoding":{
         "x":{"field":"h","type":"ordinal","sort":["H10","H100","H1000"],"title":null,"scale":{"paddingInner":0.12,"paddingOuter":0.1},"axis":{"labelAngle":-90,"labelFontSize":8.5}},
         "xOffset":{"field":"s","type":"nominal","sort":["FilterUpdated+NoHeu","FilterUpdated+Heu","HistJoin+Heu","Cost+Heu"]},
         "y":{"field":"v","type":"quantitative","stack":null,"scale":{"type":"log","domain":[0.01,10],"clamp":true},"axis":{"values":[0.01,0.1,1,10],"format":"~g","grid":true,"title":"Runtime (sec)","labelFontSize":11,"titleFontSize":12,"titlePadding":3}},
         "color":{"field":"s","type":"nominal","scale":{"domain":["FilterUpdated+NoHeu","FilterUpdated+Heu","HistJoin+Heu","Cost+Heu"],"range":["#000000","#0000ff","#ff0000","#00e800"]},"legend":{"orient":"none","legendX":8,"legendY":-6,"title":null,"labelFontSize":8.5,"symbolSize":45}}
        }
       }
      }
     ]
    },
    {
     "spacing":12,
     "resolve":{"scale":{"color":"independent","xOffset":"independent"},"legend":{"color":"independent"}},
     "title":{"text":"Fig. 16: SimpleAgg (Left) and TPC-H (Right) Overhead","orient":"bottom","anchor":"middle","offset":14},
     "hconcat":[
      {
       "width":198,"height":100,
       "data":{"name":"f16a"},
       "transform":[{"fold":["NoHeu","Heu","Cost+NoHeu","Cost+Heu"],"as":["s","v"]}],
       "mark":{"type":"bar"},
       "encoding":{
        "x":{"field":"n","type":"ordinal","title":"Number of Aggregations","scale":{"paddingInner":0.3,"paddingOuter":0.15},"axis":{"labelAngle":0,"labelFontSize":10,"titleFontSize":11}},
        "xOffset":{"field":"s","type":"nominal","sort":["NoHeu","Heu","Cost+NoHeu","Cost+Heu"]},
        "y":{"field":"v","type":"quantitative","stack":null,"scale":{"type":"log","domain":[0.01,230],"clamp":true},"axis":{"values":[0.01,0.1,1,10,100],"format":"~g","grid":true,"title":"Runtime (sec)","labelFontSize":11,"titleFontSize":11,"titlePadding":3}},
        "color":{"field":"s","type":"nominal","scale":{"domain":["NoHeu","Heu","Cost+NoHeu","Cost+Heu"],"range":["#000000","#6f96e8","#f2217f","#20ee20"]},"legend":{"orient":"none","legendX":8,"legendY":-2,"title":null,"labelFontSize":10.5,"symbolSize":100,"rowPadding":1}}
       }
      },
      {
       "width":194,"height":100,
       "data":{"name":"f16b"},
       "transform":[{"fold":["Window+NoHeu","Window+Heu","Join+NoHeu","Join+Heu","Cost+NoH","Cost+Heu"],"as":["s","v"]}],
       "mark":{"type":"bar"},
       "encoding":{
        "x":{"field":"q","type":"ordinal","sort":null,"title":"TPCH Queries","scale":{"paddingInner":0.25,"paddingOuter":0.1},"axis":{"labelAngle":0,"labelFontSize":7.5,"titleFontSize":10}},
        "xOffset":{"field":"s","type":"nominal","sort":["Window+NoHeu","Window+Heu","Join+NoHeu","Join+Heu","Cost+NoH","Cost+Heu"]},
        "y":{"field":"v","type":"quantitative","stack":null,"scale":{"type":"log","domain":[0.01,10],"clamp":true},"axis":{"values":[0.01,0.1,1,10],"format":"~g","grid":true,"title":"Runtime (sec)","labelFontSize":7}},
        "color":{"field":"s","type":"nominal","scale":{"domain":["Window+NoHeu","Window+Heu","Join+NoHeu","Join+Heu","Cost+NoH","Cost+Heu"],"range":["#8b4513","#ff0000","#ff8c00","#0000ff","#ff1493","#00ee00"]},"legend":{"orient":"none","legendX":10,"legendY":2,"columns":3,"columnPadding":8,"title":null,"labelFontSize":7}}
       }
      }
     ]
    }
   ]
  },
  {
   "spacing":4,
   "resolve":{"scale":{"color":"independent","xOffset":"independent"},"legend":{"color":"independent"}},
   "vconcat":[
    {
     "data":{"name":"t17"},
     "transform":[{"fold":["c0","c1","c2","c3","c4","c5"],"as":["c","t"]}],
     "spacing":0,
     "title":{"text":["Fig. 17: Min, max, and avg runtime rel-","ative to the best method per workload","aggregated over all workloads."],"orient":"bottom","anchor":"start","offset":4,"lineHeight":14},
     "vconcat":[
      {
       "spacing":0,
       "hconcat":[
        {"width":8,"height":20,"transform":[{"filter":"datum.r==0 && datum.c=='c0'"}],
         "encoding":{"x":{"field":"c","type":"nominal","axis":null,"scale":{"paddingInner":0,"paddingOuter":0,"range":[-19,8]}},"y":{"field":"r","type":"ordinal","axis":null,"scale":{"paddingInner":0,"paddingOuter":0,"range":[17,37]}}},
         "layer":[
          {"mark":{"type":"rect","stroke":"#808080","strokeWidth":0.6,"fill":"#e3e3e3"},"encoding":{}},
          {"mark":{"type":"text","font":"Liberation Serif","fontSize":8,"fontWeight":"bold","lineBreak":"\n","lineHeight":8.5,"color":"#111"},"encoding":{"text":{"field":"t"}}}
         ]},
        {"width":53,"height":20,"transform":[{"filter":"datum.r==0 && datum.c=='c1'"}],
         "encoding":{"x":{"field":"c","type":"nominal","axis":null,"scale":{"paddingInner":0,"paddingOuter":0}},"y":{"field":"r","type":"ordinal","axis":null,"scale":{"paddingInner":0,"paddingOuter":0,"range":[17,37]}}},
         "layer":[
          {"mark":{"type":"rect","stroke":"#808080","strokeWidth":0.6,"fill":"#e3e3e3"},"encoding":{}},
          {"mark":{"type":"text","font":"Liberation Serif","fontSize":8,"fontWeight":"bold","lineBreak":"\n","lineHeight":8.5,"color":"#111"},"encoding":{"text":{"field":"t"}}}
         ]},
        {"width":53,"height":20,"transform":[{"filter":"datum.r==0 && datum.c=='c2'"}],
         "encoding":{"x":{"field":"c","type":"nominal","axis":null,"scale":{"paddingInner":0,"paddingOuter":0}},"y":{"field":"r","type":"ordinal","axis":null,"scale":{"paddingInner":0,"paddingOuter":0,"range":[17,37]}}},
         "layer":[
          {"mark":{"type":"rect","stroke":"#808080","strokeWidth":0.6,"fill":"#e3e3e3"},"encoding":{}},
          {"mark":{"type":"text","font":"Liberation Serif","fontSize":8,"fontWeight":"bold","lineBreak":"\n","lineHeight":8.5,"color":"#111"},"encoding":{"text":{"field":"t"}}}
         ]},
        {"width":33,"height":20,"transform":[{"filter":"datum.r==0 && datum.c=='c3'"}],
         "encoding":{"x":{"field":"c","type":"nominal","axis":null,"scale":{"paddingInner":0,"paddingOuter":0}},"y":{"field":"r","type":"ordinal","axis":null,"scale":{"paddingInner":0,"paddingOuter":0,"range":[17,37]}}},
         "layer":[
          {"mark":{"type":"rect","stroke":"#808080","strokeWidth":0.6,"fill":"#e3e3e3"},"encoding":{}},
          {"mark":{"type":"text","font":"Liberation Serif","fontSize":8,"fontWeight":"bold","lineBreak":"\n","lineHeight":8.5,"color":"#111"},"encoding":{"text":{"field":"t"}}}
         ]},
        {"width":34,"height":20,"transform":[{"filter":"datum.r==0 && datum.c=='c4'"}],
         "encoding":{"x":{"field":"c","type":"nominal","axis":null,"scale":{"paddingInner":0,"paddingOuter":0}},"y":{"field":"r","type":"ordinal","axis":null,"scale":{"paddingInner":0,"paddingOuter":0,"range":[17,37]}}},
         "layer":[
          {"mark":{"type":"rect","stroke":"#808080","strokeWidth":0.6,"fill":"#e3e3e3"},"encoding":{}},
          {"mark":{"type":"text","font":"Liberation Serif","fontSize":8,"fontWeight":"bold","lineBreak":"\n","lineHeight":8.5,"color":"#111"},"encoding":{"text":{"field":"t"}}}
         ]},
        {"width":50,"height":20,"transform":[{"filter":"datum.r==0 && datum.c=='c5'"}],
         "encoding":{"x":{"field":"c","type":"nominal","axis":null,"scale":{"paddingInner":0,"paddingOuter":0}},"y":{"field":"r","type":"ordinal","axis":null,"scale":{"paddingInner":0,"paddingOuter":0,"range":[17,37]}}},
         "layer":[
          {"mark":{"type":"rect","stroke":"#808080","strokeWidth":0.6,"fill":"#e3e3e3"},"encoding":{}},
          {"mark":{"type":"text","font":"Liberation Serif","fontSize":8,"fontWeight":"bold","lineBreak":"\n","lineHeight":8.5,"color":"#111"},"encoding":{"text":{"field":"t"}}}
         ]}
       ]
      },
      {
       "spacing":0,
       "hconcat":[
        {"width":8,"height":30,"transform":[{"filter":"datum.r>0 && datum.c=='c0'"}],
         "encoding":{"x":{"field":"c","type":"nominal","axis":null,"scale":{"paddingInner":0,"paddingOuter":0,"range":[-19,8]}},"y":{"field":"r","type":"ordinal","axis":null,"scale":{"paddingInner":0,"paddingOuter":0}}},
         "layer":[
          {"mark":{"type":"rect","stroke":"#808080","strokeWidth":0.6,"fill":"#ffffff"},"encoding":{}},
          {"mark":{"type":"text","font":"Liberation Serif","fontSize":9,"color":"#111"},"encoding":{"text":{"field":"t"}}}
         ]},
        {"width":53,"height":30,"transform":[{"filter":"datum.r>0 && datum.c=='c1'"}],
         "encoding":{"x":{"field":"c","type":"nominal","axis":null,"scale":{"paddingInner":0,"paddingOuter":0}},"y":{"field":"r","type":"ordinal","axis":null,"scale":{"paddingInner":0,"paddingOuter":0}}},
         "layer":[
          {"mark":{"type":"rect","stroke":"#808080","strokeWidth":0.6,"fill":"#ffffff"},"encoding":{}},
          {"transform":[{"filter":"indexof(datum.best||'',datum.c)<0"}],"mark":{"type":"text","font":"Liberation Serif","fontSize":9,"color":"#111","align":"right","dx":-3},"encoding":{"x":{"field":"c","type":"nominal","bandPosition":1,"axis":null},"text":{"field":"t"}}},
          {"transform":[{"filter":"indexof(datum.best||'',datum.c)>=0"}],"mark":{"type":"text","font":"Liberation Serif","fontSize":9,"fontWeight":"bold","color":"#111","align":"right","dx":-3},"encoding":{"x":{"field":"c","type":"nominal","bandPosition":1,"axis":null},"text":{"field":"t"}}}
         ]},
        {"width":53,"height":30,"transform":[{"filter":"datum.r>0 && datum.c=='c2'"}],
         "encoding":{"x":{"field":"c","type":"nominal","axis":null,"scale":{"paddingInner":0,"paddingOuter":0}},"y":{"field":"r","type":"ordinal","axis":null,"scale":{"paddingInner":0,"paddingOuter":0}}},
         "layer":[
          {"mark":{"type":"rect","stroke":"#808080","strokeWidth":0.6,"fill":"#ffffff"},"encoding":{}},
          {"transform":[{"filter":"indexof(datum.best||'',datum.c)<0"}],"mark":{"type":"text","font":"Liberation Serif","fontSize":9,"color":"#111","align":"right","dx":-3},"encoding":{"x":{"field":"c","type":"nominal","bandPosition":1,"axis":null},"text":{"field":"t"}}},
          {"transform":[{"filter":"indexof(datum.best||'',datum.c)>=0"}],"mark":{"type":"text","font":"Liberation Serif","fontSize":9,"fontWeight":"bold","color":"#111","align":"right","dx":-3},"encoding":{"x":{"field":"c","type":"nominal","bandPosition":1,"axis":null},"text":{"field":"t"}}}
         ]},
        {"width":33,"height":30,"transform":[{"filter":"datum.r>0 && datum.c=='c3'"}],
         "encoding":{"x":{"field":"c","type":"nominal","axis":null,"scale":{"paddingInner":0,"paddingOuter":0}},"y":{"field":"r","type":"ordinal","axis":null,"scale":{"paddingInner":0,"paddingOuter":0}}},
         "layer":[
          {"mark":{"type":"rect","stroke":"#808080","strokeWidth":0.6,"fill":"#ffffff"},"encoding":{}},
          {"transform":[{"filter":"indexof(datum.best||'',datum.c)<0"}],"mark":{"type":"text","font":"Liberation Serif","fontSize":9,"color":"#111","align":"right","dx":-3},"encoding":{"x":{"field":"c","type":"nominal","bandPosition":1,"axis":null},"text":{"field":"t"}}},
          {"transform":[{"filter":"indexof(datum.best||'',datum.c)>=0"}],"mark":{"type":"text","font":"Liberation Serif","fontSize":9,"fontWeight":"bold","color":"#111","align":"right","dx":-3},"encoding":{"x":{"field":"c","type":"nominal","bandPosition":1,"axis":null},"text":{"field":"t"}}}
         ]},
        {"width":34,"height":30,"transform":[{"filter":"datum.r>0 && datum.c=='c4'"}],
         "encoding":{"x":{"field":"c","type":"nominal","axis":null,"scale":{"paddingInner":0,"paddingOuter":0}},"y":{"field":"r","type":"ordinal","axis":null,"scale":{"paddingInner":0,"paddingOuter":0}}},
         "layer":[
          {"mark":{"type":"rect","stroke":"#808080","strokeWidth":0.6,"fill":"#ffffff"},"encoding":{}},
          {"transform":[{"filter":"indexof(datum.best||'',datum.c)<0"}],"mark":{"type":"text","font":"Liberation Serif","fontSize":9,"color":"#111","align":"right","dx":-3},"encoding":{"x":{"field":"c","type":"nominal","bandPosition":1,"axis":null},"text":{"field":"t"}}},
          {"transform":[{"filter":"indexof(datum.best||'',datum.c)>=0"}],"mark":{"type":"text","font":"Liberation Serif","fontSize":9,"fontWeight":"bold","color":"#111","align":"right","dx":-3},"encoding":{"x":{"field":"c","type":"nominal","bandPosition":1,"axis":null},"text":{"field":"t"}}}
         ]},
        {"width":50,"height":30,"transform":[{"filter":"datum.r>0 && datum.c=='c5'"}],
         "encoding":{"x":{"field":"c","type":"nominal","axis":null,"scale":{"paddingInner":0,"paddingOuter":0}},"y":{"field":"r","type":"ordinal","axis":null,"scale":{"paddingInner":0,"paddingOuter":0}}},
         "layer":[
          {"mark":{"type":"rect","stroke":"#808080","strokeWidth":0.6,"fill":"#ffffff"},"encoding":{}},
          {"transform":[{"filter":"indexof(datum.best||'',datum.c)<0"}],"mark":{"type":"text","font":"Liberation Serif","fontSize":9,"color":"#111","align":"right","dx":-3},"encoding":{"x":{"field":"c","type":"nominal","bandPosition":1,"axis":null},"text":{"field":"t"}}},
          {"transform":[{"filter":"indexof(datum.best||'',datum.c)>=0"}],"mark":{"type":"text","font":"Liberation Serif","fontSize":9,"fontWeight":"bold","color":"#111","align":"right","dx":-3},"encoding":{"x":{"field":"c","type":"nominal","bandPosition":1,"axis":null},"text":{"field":"t"}}}
         ]}
       ]
      }
     ]
    },
    {
     "data":{"name":"t18"},
     "transform":[{"fold":["c0","c1","c2","c3","c4"],"as":["c","t"]}],
     "spacing":0,
     "title":{"text":["Fig. 18: Total workload runtime for","transaction provenance"],"orient":"bottom","anchor":"start","offset":10,"lineHeight":14},
     "vconcat":[
      {
       "spacing":0,
       "hconcat":[
        {"width":24,"height":18,"transform":[{"filter":"datum.r==0 && datum.c=='c0'"}],
         "encoding":{"x":{"field":"c","type":"nominal","axis":null,"scale":{"paddingInner":0,"paddingOuter":0,"range":[-19,24]}},"y":{"field":"r","type":"ordinal","axis":null,"scale":{"paddingInner":0,"paddingOuter":0,"range":[6,24]}}},
         "layer":[
          {"mark":{"type":"rect","stroke":"#808080","strokeWidth":0.6,"fill":"#e3e3e3"},"encoding":{}},
          {"mark":{"type":"text","font":"Liberation Serif","fontSize":8,"fontWeight":"bold","lineBreak":"\n","lineHeight":8,"color":"#111"},"encoding":{"text":{"field":"t"}}}
         ]},
        {"width":67,"height":18,"transform":[{"filter":"datum.r==0 && datum.c=='c1'"}],
         "encoding":{"x":{"field":"c","type":"nominal","axis":null,"scale":{"paddingInner":0,"paddingOuter":0}},"y":{"field":"r","type":"ordinal","axis":null,"scale":{"paddingInner":0,"paddingOuter":0,"range":[6,24]}}},
         "layer":[
          {"mark":{"type":"rect","stroke":"#808080","strokeWidth":0.6,"fill":"#e3e3e3"},"encoding":{}},
          {"mark":{"type":"text","font":"Liberation Serif","fontSize":8,"fontWeight":"bold","lineBreak":"\n","lineHeight":8,"color":"#111"},"encoding":{"text":{"field":"t"}}}
         ]},
        {"width":42,"height":18,"transform":[{"filter":"datum.r==0 && datum.c=='c2'"}],
         "encoding":{"x":{"field":"c","type":"nominal","axis":null,"scale":{"paddingInner":0,"paddingOuter":0}},"y":{"field":"r","type":"ordinal","axis":null,"scale":{"paddingInner":0,"paddingOuter":0,"range":[6,24]}}},
         "layer":[
          {"mark":{"type":"rect","stroke":"#808080","strokeWidth":0.6,"fill":"#e3e3e3"},"encoding":{}},
          {"mark":{"type":"text","font":"Liberation Serif","fontSize":8,"fontWeight":"bold","lineBreak":"\n","lineHeight":8,"color":"#111"},"encoding":{"text":{"field":"t"}}}
         ]},
        {"width":68,"height":18,"transform":[{"filter":"datum.r==0 && datum.c=='c3'"}],
         "encoding":{"x":{"field":"c","type":"nominal","axis":null,"scale":{"paddingInner":0,"paddingOuter":0}},"y":{"field":"r","type":"ordinal","axis":null,"scale":{"paddingInner":0,"paddingOuter":0,"range":[6,24]}}},
         "layer":[
          {"mark":{"type":"rect","stroke":"#808080","strokeWidth":0.6,"fill":"#e3e3e3"},"encoding":{}},
          {"mark":{"type":"text","font":"Liberation Serif","fontSize":8,"fontWeight":"bold","lineBreak":"\n","lineHeight":8,"color":"#111"},"encoding":{"text":{"field":"t"}}}
         ]},
        {"width":30,"height":18,"transform":[{"filter":"datum.r==0 && datum.c=='c4'"}],
         "encoding":{"x":{"field":"c","type":"nominal","axis":null,"scale":{"paddingInner":0,"paddingOuter":0}},"y":{"field":"r","type":"ordinal","axis":null,"scale":{"paddingInner":0,"paddingOuter":0,"range":[6,24]}}},
         "layer":[
          {"mark":{"type":"rect","stroke":"#808080","strokeWidth":0.6,"fill":"#e3e3e3"},"encoding":{}},
          {"mark":{"type":"text","font":"Liberation Serif","fontSize":8,"fontWeight":"bold","lineBreak":"\n","lineHeight":8,"color":"#111"},"encoding":{"text":{"field":"t"}}}
         ]}
       ]
      },
      {
       "spacing":0,
       "hconcat":[
        {"width":24,"height":24,"transform":[{"filter":"datum.r>0 && datum.c=='c0'"}],
         "encoding":{"x":{"field":"c","type":"nominal","axis":null,"scale":{"paddingInner":0,"paddingOuter":0,"range":[-19,24]}},"y":{"field":"r","type":"ordinal","axis":null,"scale":{"paddingInner":0,"paddingOuter":0}}},
         "layer":[
          {"mark":{"type":"rect","stroke":"#808080","strokeWidth":0.6,"fill":"#ffffff"},"encoding":{}},
          {"mark":{"type":"text","font":"Liberation Serif","fontSize":9,"color":"#111"},"encoding":{"text":{"field":"t"}}}
         ]},
        {"width":67,"height":24,"transform":[{"filter":"datum.r>0 && datum.c=='c1'"}],
         "encoding":{"x":{"field":"c","type":"nominal","axis":null,"scale":{"paddingInner":0,"paddingOuter":0}},"y":{"field":"r","type":"ordinal","axis":null,"scale":{"paddingInner":0,"paddingOuter":0}}},
         "layer":[
          {"mark":{"type":"rect","stroke":"#808080","strokeWidth":0.6,"fill":"#ffffff"},"encoding":{}},
          {"transform":[{"filter":"indexof(datum.best||'',datum.c)<0"}],"mark":{"type":"text","font":"Liberation Serif","fontSize":9,"color":"#111","align":"right","dx":-3},"encoding":{"x":{"field":"c","type":"nominal","bandPosition":1,"axis":null},"text":{"field":"t"}}},
          {"transform":[{"filter":"indexof(datum.best||'',datum.c)>=0"}],"mark":{"type":"text","font":"Liberation Serif","fontSize":9,"fontWeight":"bold","color":"#111","align":"right","dx":-3},"encoding":{"x":{"field":"c","type":"nominal","bandPosition":1,"axis":null},"text":{"field":"t"}}}
         ]},
        {"width":42,"height":24,"transform":[{"filter":"datum.r>0 && datum.c=='c2'"}],
         "encoding":{"x":{"field":"c","type":"nominal","axis":null,"scale":{"paddingInner":0,"paddingOuter":0}},"y":{"field":"r","type":"ordinal","axis":null,"scale":{"paddingInner":0,"paddingOuter":0}}},
         "layer":[
          {"mark":{"type":"rect","stroke":"#808080","strokeWidth":0.6,"fill":"#ffffff"},"encoding":{}},
          {"transform":[{"filter":"indexof(datum.best||'',datum.c)<0"}],"mark":{"type":"text","font":"Liberation Serif","fontSize":9,"color":"#111","align":"right","dx":-3},"encoding":{"x":{"field":"c","type":"nominal","bandPosition":1,"axis":null},"text":{"field":"t"}}},
          {"transform":[{"filter":"indexof(datum.best||'',datum.c)>=0"}],"mark":{"type":"text","font":"Liberation Serif","fontSize":9,"fontWeight":"bold","color":"#111","align":"right","dx":-3},"encoding":{"x":{"field":"c","type":"nominal","bandPosition":1,"axis":null},"text":{"field":"t"}}}
         ]},
        {"width":68,"height":24,"transform":[{"filter":"datum.r>0 && datum.c=='c3'"}],
         "encoding":{"x":{"field":"c","type":"nominal","axis":null,"scale":{"paddingInner":0,"paddingOuter":0}},"y":{"field":"r","type":"ordinal","axis":null,"scale":{"paddingInner":0,"paddingOuter":0}}},
         "layer":[
          {"mark":{"type":"rect","stroke":"#808080","strokeWidth":0.6,"fill":"#ffffff"},"encoding":{}},
          {"transform":[{"filter":"indexof(datum.best||'',datum.c)<0"}],"mark":{"type":"text","font":"Liberation Serif","fontSize":9,"color":"#111","align":"right","dx":-3},"encoding":{"x":{"field":"c","type":"nominal","bandPosition":1,"axis":null},"text":{"field":"t"}}},
          {"transform":[{"filter":"indexof(datum.best||'',datum.c)>=0"}],"mark":{"type":"text","font":"Liberation Serif","fontSize":9,"fontWeight":"bold","color":"#111","align":"right","dx":-3},"encoding":{"x":{"field":"c","type":"nominal","bandPosition":1,"axis":null},"text":{"field":"t"}}}
         ]},
        {"width":30,"height":24,"transform":[{"filter":"datum.r>0 && datum.c=='c4'"}],
         "encoding":{"x":{"field":"c","type":"nominal","axis":null,"scale":{"paddingInner":0,"paddingOuter":0}},"y":{"field":"r","type":"ordinal","axis":null,"scale":{"paddingInner":0,"paddingOuter":0}}},
         "layer":[
          {"mark":{"type":"rect","stroke":"#808080","strokeWidth":0.6,"fill":"#ffffff"},"encoding":{}},
          {"transform":[{"filter":"indexof(datum.best||'',datum.c)<0"}],"mark":{"type":"text","font":"Liberation Serif","fontSize":9,"color":"#111","align":"right","dx":-3},"encoding":{"x":{"field":"c","type":"nominal","bandPosition":1,"axis":null},"text":{"field":"t"}}},
          {"transform":[{"filter":"indexof(datum.best||'',datum.c)>=0"}],"mark":{"type":"text","font":"Liberation Serif","fontSize":9,"fontWeight":"bold","color":"#111","align":"right","dx":-3},"encoding":{"x":{"field":"c","type":"nominal","bandPosition":1,"axis":null},"text":{"field":"t"}}}
         ]}
       ]
      }
     ]
    },
    {
     "data":{"name":"t19"},
     "transform":[{"fold":["c0","c1","c2","c3"],"as":["c","t"]}],
     "spacing":0,
     "title":{"text":["Fig. 19: Total runtime for export and","Datalog workloads"],"orient":"bottom","anchor":"start","offset":10,"lineHeight":14},
     "hconcat":[
      {"width":86,"height":78,"transform":[{"filter":"datum.c=='c0'"}],
       "encoding":{"x":{"field":"c","type":"nominal","axis":null,"scale":{"paddingInner":0,"paddingOuter":0,"range":[-19,86]}},"y":{"field":"r","type":"ordinal","axis":null,"scale":{"paddingInner":0,"paddingOuter":0}}},
       "layer":[
        {"mark":{"type":"rect","stroke":"#808080","strokeWidth":0.6},"encoding":{"fill":{"condition":{"test":"datum.r==0","value":"#e3e3e3"},"value":"#ffffff"}}},
        {"transform":[{"filter":"datum.r==0"}],"mark":{"type":"text","font":"Liberation Serif","fontSize":9.5,"fontWeight":"bold","color":"#111"},"encoding":{"text":{"field":"t"}}},
        {"transform":[{"filter":"datum.r>0"}],"mark":{"type":"text","font":"Liberation Serif","fontSize":9.5,"color":"#111"},"encoding":{"text":{"field":"t"}}}
       ]},
      {"width":55,"height":78,"transform":[{"filter":"datum.c=='c1'"}],
       "encoding":{"x":{"field":"c","type":"nominal","axis":null,"scale":{"paddingInner":0,"paddingOuter":0}},"y":{"field":"r","type":"ordinal","axis":null,"scale":{"paddingInner":0,"paddingOuter":0}}},
       "layer":[
        {"mark":{"type":"rect","stroke":"#808080","strokeWidth":0.6},"encoding":{"fill":{"condition":{"test":"datum.r==0","value":"#e3e3e3"},"value":"#ffffff"}}},
        {"transform":[{"filter":"datum.r==0"}],"mark":{"type":"text","font":"Liberation Serif","fontSize":9.5,"fontWeight":"bold","color":"#111"},"encoding":{"text":{"field":"t"}}},
        {"transform":[{"filter":"datum.r>0 && indexof(datum.best||'',datum.c)<0"}],"mark":{"type":"text","font":"Liberation Serif","fontSize":9.5,"color":"#111","align":"right","dx":-3},"encoding":{"x":{"field":"c","type":"nominal","bandPosition":1,"axis":null},"text":{"field":"t"}}},
        {"transform":[{"filter":"datum.r>0 && indexof(datum.best||'',datum.c)>=0"}],"mark":{"type":"text","font":"Liberation Serif","fontSize":9.5,"fontWeight":"bold","color":"#111","align":"right","dx":-3},"encoding":{"x":{"field":"c","type":"nominal","bandPosition":1,"axis":null},"text":{"field":"t"}}}
       ]},
      {"width":35,"height":78,"transform":[{"filter":"datum.c=='c2'"}],
       "encoding":{"x":{"field":"c","type":"nominal","axis":null,"scale":{"paddingInner":0,"paddingOuter":0}},"y":{"field":"r","type":"ordinal","axis":null,"scale":{"paddingInner":0,"paddingOuter":0}}},
       "layer":[
        {"mark":{"type":"rect","stroke":"#808080","strokeWidth":0.6},"encoding":{"fill":{"condition":{"test":"datum.r==0","value":"#e3e3e3"},"value":"#ffffff"}}},
        {"transform":[{"filter":"datum.r==0"}],"mark":{"type":"text","font":"Liberation Serif","fontSize":9.5,"fontWeight":"bold","color":"#111"},"encoding":{"text":{"field":"t"}}},
        {"transform":[{"filter":"datum.r>0 && indexof(datum.best||'',datum.c)<0"}],"mark":{"type":"text","font":"Liberation Serif","fontSize":9.5,"color":"#111","align":"right","dx":-3},"encoding":{"x":{"field":"c","type":"nominal","bandPosition":1,"axis":null},"text":{"field":"t"}}},
        {"transform":[{"filter":"datum.r>0 && indexof(datum.best||'',datum.c)>=0"}],"mark":{"type":"text","font":"Liberation Serif","fontSize":9.5,"fontWeight":"bold","color":"#111","align":"right","dx":-3},"encoding":{"x":{"field":"c","type":"nominal","bandPosition":1,"axis":null},"text":{"field":"t"}}}
       ]},
      {"width":55,"height":78,"transform":[{"filter":"datum.c=='c3'"}],
       "encoding":{"x":{"field":"c","type":"nominal","axis":null,"scale":{"paddingInner":0,"paddingOuter":0}},"y":{"field":"r","type":"ordinal","axis":null,"scale":{"paddingInner":0,"paddingOuter":0}}},
       "layer":[
        {"mark":{"type":"rect","stroke":"#808080","strokeWidth":0.6},"encoding":{"fill":{"condition":{"test":"datum.r==0","value":"#e3e3e3"},"value":"#ffffff"}}},
        {"transform":[{"filter":"datum.r==0"}],"mark":{"type":"text","font":"Liberation Serif","fontSize":9.5,"fontWeight":"bold","color":"#111"},"encoding":{"text":{"field":"t"}}},
        {"transform":[{"filter":"datum.r>0 && indexof(datum.best||'',datum.c)<0"}],"mark":{"type":"text","font":"Liberation Serif","fontSize":9.5,"color":"#111","align":"right","dx":-3},"encoding":{"x":{"field":"c","type":"nominal","bandPosition":1,"axis":null},"text":{"field":"t"}}},
        {"transform":[{"filter":"datum.r>0 && indexof(datum.best||'',datum.c)>=0"}],"mark":{"type":"text","font":"Liberation Serif","fontSize":9.5,"fontWeight":"bold","color":"#111","align":"right","dx":-3},"encoding":{"x":{"field":"c","type":"nominal","bandPosition":1,"axis":null},"text":{"field":"t"}}}
       ]}
     ]
    },
    {
     "data":{"name":"f20"},
     "spacing":1,
     "resolve":{"legend":{"color":"independent"}},
     "title":{"text":["Fig. 20: Optimization + runtime for Sim-","ple Agg. - 1GB"],"orient":"bottom","anchor":"start","offset":0,"lineHeight":14},
     "vconcat":[
      {
       "facet":{"column":{"field":"g","type":"nominal","sort":["seq","bin","seq+adp","bin+adp"],"header":null}},
       "spacing":10,
       "spec":{
        "width":46,"height":42,
        "mark":{"type":"bar","clip":true},
        "encoding":{
         "x":{"field":"n","type":"ordinal","axis":null,"scale":{"paddingInner":0.1,"paddingOuter":0.05}},
         "y":{"field":"v","type":"quantitative","stack":"zero","scale":{"type":"log","domain":[8,250],"clamp":true},"axis":{"values":[40,250],"title":null,"grid":true,"labelFontSize":7,"titlePadding":3,"labelPadding":2}},
         "color":{"field":"s","type":"nominal","scale":{"domain":["O(seq)","R(seq)","O(bin)","R(bin)","O(seq+adp)","R(seq+adp)","O(bin+adp)","R(bin+adp)"],"range":["#ff0000","#0000ff","#000000","#00ff00","#ffff00","#f08080","#ff00ff","#808080"]},"legend":null},
         "order":{"field":"s","sort":"ascending"}
        }
       }
      },
      {
       "facet":{"column":{"field":"g","type":"nominal","sort":["seq","bin","seq+adp","bin+adp"],"title":"Number of Aggregations","header":{"labelOrient":"bottom","titleOrient":"bottom","labelFontSize":7,"titleFontSize":7.5,"labelPadding":0,"titlePadding":0}}},
       "spacing":10,
       "spec":{
        "width":46,"height":106,
        "mark":{"type":"bar","clip":true},
        "encoding":{
         "x":{"field":"n","type":"ordinal","title":null,"scale":{"paddingInner":0.1,"paddingOuter":0.05},"axis":{"labelAngle":0,"labelFontSize":5,"labelOverlap":false,"ticks":false,"labelPadding":1}},
         "y":{"field":"v","type":"quantitative","stack":"zero","scale":{"domain":[0,8],"clamp":true,"nice":false},"axis":{"values":[0,1,2,3,4,5,6,7,8],"title":"Runtime (sec)","grid":true,"labelFontSize":7,"titleFontSize":7.5,"titlePadding":3,"labelPadding":2}},
         "color":{"field":"s","type":"nominal","scale":{"domain":["O(seq)","R(seq)","O(bin)","R(bin)","O(seq+adp)","R(seq+adp)","O(bin+adp)","R(bin+adp)"],"range":["#ff0000","#0000ff","#000000","#00ff00","#ffff00","#f08080","#ff00ff","#808080"]},"legend":{"orient":"none","legendX":116,"legendY":-3,"columns":2,"columnPadding":6,"title":null,"labelFontSize":6.5,"symbolSize":30}},
         "order":{"field":"s","sort":"ascending"}
        }
       }
      }
     ]
    },
    {
     "data":{"name":"f21"},
     "title":{"text":["Fig. 21: Optimization + runtime for Sim-","ple Aggregation workload using Simu-","lated Annealing - 1GB dataset"],"orient":"bottom","anchor":"start","offset":8,"lineHeight":14},
     "facet":{"column":{"field":"g","type":"nominal","sort":["sim|cool=0.5","sim|cool=0.8","sim+adp|cool=0.5","sim+adp|cool=0.8"],"title":"SimpleAgg. Queries","header":{"labelOrient":"bottom","titleOrient":"bottom","labelFontSize":7,"titleFontSize":7.5,"labelPadding":0,"titlePadding":0,"labelExpr":"split(datum.label,'|')","labelLineHeight":8}}},
     "spacing":10,
     "spec":{
      "width":46,"height":105,
      "mark":{"type":"bar","clip":true},
      "encoding":{
       "x":{"field":"n","type":"ordinal","title":null,"scale":{"paddingInner":0.1,"paddingOuter":0.05},"axis":{"labelAngle":0,"labelFontSize":5,"labelOverlap":false,"ticks":false,"labelPadding":1}},
       "y":{"field":"v","type":"quantitative","stack":"zero","scale":{"domain":[0,12],"nice":false},"axis":{"values":[0,2,4,6,8,10,12],"title":"Runtime (sec)","grid":true,"labelFontSize":7,"titleFontSize":7.5,"titlePadding":3,"labelPadding":2}},
       "color":{"field":"s","type":"nominal","scale":{"domain":["O(sim_cool=0.5)","R(sim_cool=0.5)","O(sim_cool=0.8)","R(sim_cool=0.8)","O(sim+adp_cool=0.5)","R(sim+adp_cool=0.5)","O(sim+adp_cool=0.8)","R(sim+adp_cool=0.8)"],"range":["#ff0000","#0000ff","#000000","#00ff00","#ffff00","#f08080","#ff00ff","#808080"]},"legend":{"orient":"none","legendX":22,"legendY":6,"columns":2,"columnPadding":6,"title":null,"labelFontSize":6.5,"symbolSize":30}},
       "order":{"field":"s","sort":"ascending"}
      }
     }
    }
   ]
  }
 ]
}
]
}
